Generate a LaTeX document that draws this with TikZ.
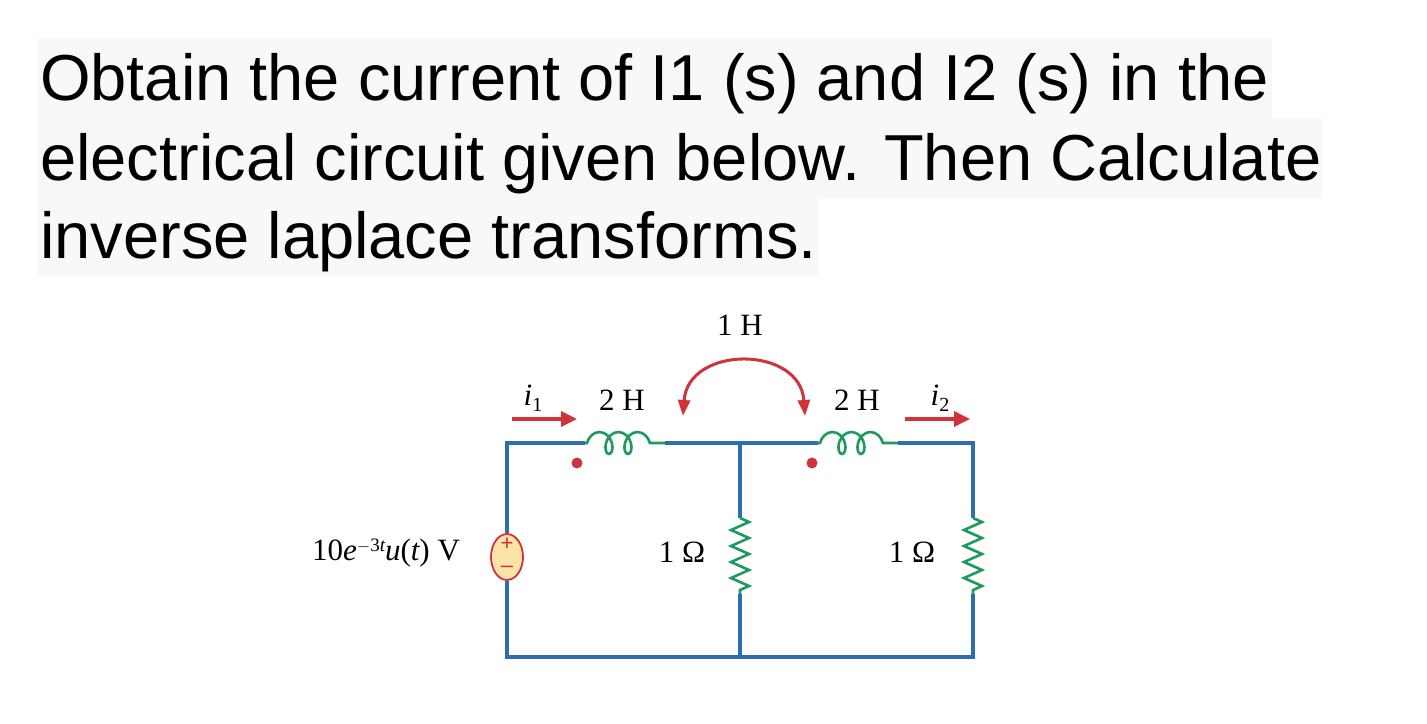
\documentclass[tikz,border=0pt]{standalone}
\usepackage{fontspec}
\setmainfont{Liberation Sans}
\newfontfamily\ser{Liberation Serif}
\usetikzlibrary{decorations.pathmorphing,arrows.meta,shapes.geometric}
\definecolor{wire}{HTML}{2E6DB4}
\definecolor{grn}{HTML}{1E9A5A}
\definecolor{rd}{HTML}{D0343A}
\definecolor{hl}{HTML}{F7F8FA}
\definecolor{srcf}{HTML}{FCE3A8}
\newcommand{\itx}[1]{{\itshape #1}}
\tikzset{
 x=1pt,y=-1pt,
 wirestyle/.style={draw=wire,line width=3.5pt},
 lbl/.style={font=\ser\fontsize{31}{31}\selectfont,inner sep=0pt},
 title/.style={font=\fontsize{65}{70}\selectfont,anchor=base west,inner sep=0pt},
 hlbox/.style={fill=hl,draw=none},
 coil/.style={draw=grn,line width=2.6pt,decorate,decoration={coil,aspect=0.7,segment length=19pt,amplitude=11pt,pre length=2pt,post length=2pt}},
 zig/.style={draw=grn,line width=2.6pt,decorate,decoration={zigzag,segment length=16pt,amplitude=9pt}},
 iarrow/.style={draw=rd,line width=3.5pt,-{Triangle[length=16pt,width=15pt]}},
}
\begin{document}
\begin{tikzpicture}
\useasboundingbox (0,0) rectangle (1427,723);
\fill[white] (0,0) rectangle (1427,723);
\path[hlbox] (38,38) rectangle (1272,118);
\path[hlbox] (38,118) rectangle (1322,198);
\path[hlbox] (38,198) rectangle (818,276);
\node[title] (t1) at (40,100) {Obtain the current of I1 (s) and I2 (s) in the};
\node[title] (t2) at (40,180) {electrical circuit given below. Then Calculate};
\node[title] (t3) at (40,258) {inverse laplace transforms.};
% coordinates
\coordinate (tl) at (507,443);
\coordinate (bl) at (507,657);
\coordinate (tm) at (740,443);
\coordinate (bm) at (740,657);
\coordinate (tr) at (973,443);
\coordinate (br) at (973,657);
\coordinate (l1a) at (585,443); \coordinate (l1b) at (665,443);
\coordinate (l2a) at (818,443); \coordinate (l2b) at (898,443);
\coordinate (r1a) at (740,518); \coordinate (r1b) at (740,594);
\coordinate (r2a) at (973,518); \coordinate (r2b) at (973,594);
\node[ellipse,draw=rd,fill=srcf,line width=1.8pt,minimum width=32pt,minimum height=46pt,inner sep=0pt] (src) at (507,557) {};
\node[font=\fontsize{22}{22}\selectfont,text=rd] at (507,544) {+};
\node[font=\fontsize{22}{22}\selectfont,text=rd] at (507,569) {--};
% wires
\draw[wirestyle] (src.north) -- (tl) -- (l1a);
\draw[wirestyle] (l1b) -- (l2a);
\draw[wirestyle] (l2b) -- (tr) -- (r2a);
\draw[wirestyle] (r2b) -- (br) -- (bl) -- (src.south);
\draw[wirestyle] (tm) -- (r1a);
\draw[wirestyle] (r1b) -- (bm);
% components
\draw[coil] (l1a) -- (l1b);
\draw[coil] (l2a) -- (l2b);
\draw[zig] (r1a) -- (r1b);
\draw[zig] (r2a) -- (r2b);
\fill[rd] (577,463) circle (5.5pt);
\fill[rd] (812,463) circle (5.5pt);
% labels
\node[lbl] (vs) at (386,553) {10\itx{e}\raisebox{9pt}{\fontsize{19}{19}\selectfont$-$3\itx{t}}\itx{u}(\itx{t}) V};
\node[lbl] (ra) at (682,552) {1 Ω};
\node[lbl] (rb) at (912,552) {1 Ω};
\node[lbl] (la) at (622,400) {2 H};
\node[lbl] (lb) at (857,400) {2 H};
\node[lbl] (m) at (740,325) {1 H};
\node[lbl] (i1) at (533,398) {\itx{i}\raisebox{-6pt}{\fontsize{20}{20}\selectfont 1}};
\node[lbl] (i2) at (940,398) {\itx{i}\raisebox{-6pt}{\fontsize{20}{20}\selectfont 2}};
\coordinate (a1s) at (512,419); \coordinate (a1e) at (577,419);
\coordinate (a2s) at (905,419); \coordinate (a2e) at (970,419);
\draw[iarrow] (a1s) -- (a1e);
\draw[iarrow] (a2s) -- (a2e);
\coordinate (ma) at (683,416); \coordinate (mb) at (805,416);
\draw[draw=rd,line width=3pt,{Triangle[length=16pt,width=12pt]}-{Triangle[length=16pt,width=12pt]}] (ma) .. controls (688,345) and (800,345) .. (mb);
\end{tikzpicture}
\end{document}
